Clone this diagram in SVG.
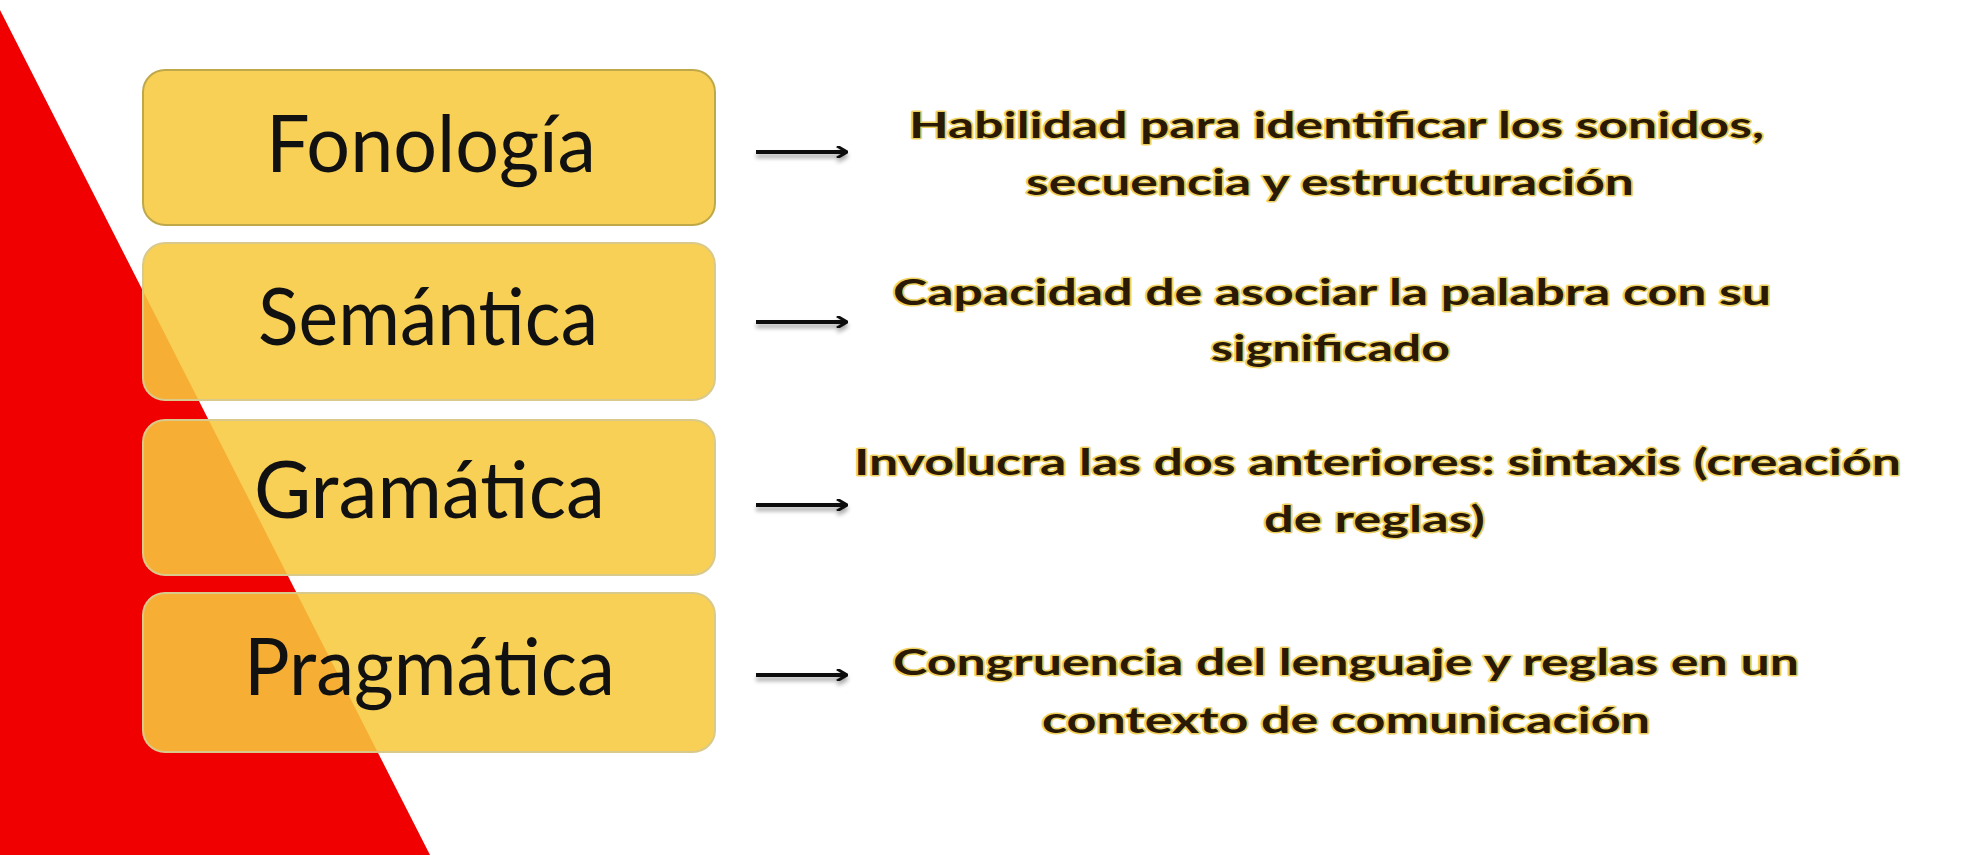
<svg xmlns="http://www.w3.org/2000/svg" width="1970" height="855" viewBox="0 0 1970 855">
<defs>
<style>
.box{fill:#F7C93C;fill-opacity:0.87;stroke:#D9C98A;stroke-width:2}
.lbl{font-family:"Lato","Open Sans",sans-serif;font-size:80px;fill:#111;text-anchor:start}
.desc{font-family:"Lato","Open Sans",sans-serif;font-weight:bold;font-size:37px;fill:#2A1A05;stroke:#E9C22A;stroke-width:3;stroke-opacity:0.75;paint-order:stroke;stroke-linejoin:round}
.arr{stroke:#111;stroke-width:4;fill:none}
</style>
<filter id="sh" x="-20%" y="-50%" width="140%" height="250%"><feGaussianBlur in="SourceAlpha" stdDeviation="2"/><feOffset dx="0" dy="4"/><feComponentTransfer><feFuncA type="linear" slope="0.35"/></feComponentTransfer><feMerge><feMergeNode/><feMergeNode in="SourceGraphic"/></feMerge></filter>
<marker id="ah" viewBox="0 0 12 12" refX="10" refY="6" markerWidth="12" markerHeight="12" markerUnits="userSpaceOnUse" orient="auto"><path d="M1,0 L11,6 L1,12" fill="none" stroke="#111" stroke-width="3"/></marker>
</defs>
<rect width="1970" height="855" fill="#fff"/>
<polygon points="0,10 430,855 0,855" fill="#F00000"/>
<g id="fonologia"><rect class="box" x="143" y="70" width="572" height="155" rx="22" style="stroke:#BFA84A"/><text class="lbl" x="266" y="172" textLength="330" lengthAdjust="spacingAndGlyphs">Fonología</text></g>
<g id="semantica"><rect class="box" x="143" y="243" width="572" height="157" rx="22"/><text class="lbl" x="258" y="345" textLength="340" lengthAdjust="spacingAndGlyphs">Semántica</text></g>
<g id="gramatica"><rect class="box" x="143" y="420" width="572" height="155" rx="22"/><text class="lbl" x="254" y="518" textLength="351" lengthAdjust="spacingAndGlyphs">Gramática</text></g>
<g id="pragmatica"><rect class="box" x="143" y="593" width="572" height="159" rx="22"/><text class="lbl" x="244" y="695" textLength="371" lengthAdjust="spacingAndGlyphs">Pragmática</text></g>
<g id="connectors" filter="url(#sh)">
<line class="arr" x1="756" y1="152" x2="846" y2="152" marker-end="url(#ah)"/>
<line class="arr" x1="756" y1="322" x2="846" y2="322" marker-end="url(#ah)"/>
<line class="arr" x1="756" y1="505" x2="846" y2="505" marker-end="url(#ah)"/>
<line class="arr" x1="756" y1="675" x2="846" y2="675" marker-end="url(#ah)"/>
</g>
<g id="desc-fonologia"><text class="desc" x="909" y="138" textLength="855" lengthAdjust="spacingAndGlyphs">Habilidad para identificar los sonidos,</text><text class="desc" x="1026" y="195" textLength="608" lengthAdjust="spacingAndGlyphs">secuencia y estructuración</text></g>
<g id="desc-semantica"><text class="desc" x="893" y="305" textLength="878" lengthAdjust="spacingAndGlyphs">Capacidad de asociar la palabra con su</text><text class="desc" x="1211" y="361" textLength="239" lengthAdjust="spacingAndGlyphs">significado</text></g>
<g id="desc-gramatica"><text class="desc" x="854" y="475" textLength="1047" lengthAdjust="spacingAndGlyphs">Involucra las dos anteriores: sintaxis (creación</text><text class="desc" x="1264" y="532" textLength="221" lengthAdjust="spacingAndGlyphs">de reglas)</text></g>
<g id="desc-pragmatica"><text class="desc" x="893" y="675" textLength="906" lengthAdjust="spacingAndGlyphs">Congruencia del lenguaje y reglas en un</text><text class="desc" x="1042" y="733" textLength="608" lengthAdjust="spacingAndGlyphs">contexto de comunicación</text></g>
</svg>
